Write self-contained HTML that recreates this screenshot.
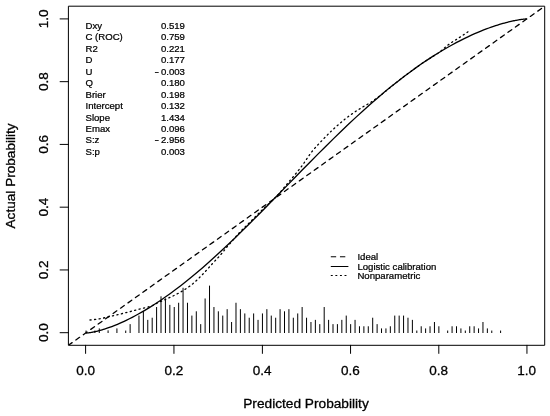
<!DOCTYPE html>
<html><head><meta charset="utf-8"><title>Calibration plot</title>
<style>
html,body{margin:0;padding:0;background:#fff;}
svg{display:block;font-family:"Liberation Sans",Arial,Helvetica,sans-serif;fill:#000;}
.ax text{font-size:13.7px;stroke:#000;stroke-width:0.3px;}
.ax .tk text{font-size:13.5px;}
.sm text{font-size:9.6px;stroke:#000;stroke-width:0.24px;}
</style></head><body>
<svg width="550" height="416" viewBox="0 0 550 416">
<rect width="550" height="416" fill="#fff"/>
<defs><clipPath id="c"><rect x="68.4" y="6.2" width="476.30" height="339.10"/></clipPath></defs>
<g fill="none" stroke="#000" stroke-width="1" stroke-linecap="round" stroke-linejoin="round">
<path d="M68.4 6.2H544.7V345.3H68.4Z" stroke-linecap="butt" stroke-linejoin="miter"/>
<path d="M85.60 345.3V353.40M173.95 345.3V353.40M262.40 345.3V353.40M350.55 345.3V353.40M438.80 345.3V353.40M526.95 345.3V353.40M68.4 332.70H60.10M68.4 269.94H60.10M68.4 207.18H60.10M68.4 144.42H60.10M68.4 81.66H60.10M68.4 18.90H60.10"/>
<path d="M86.04 333.00V330.56M94.86 333.00V330.56M99.27 333.00V328.42M108.09 333.00V330.35M116.91 333.00V328.42M125.73 333.00V330.56M130.14 333.00V324.14M138.96 333.00V315.58M143.37 333.00V311.30M147.78 333.00V319.86M152.19 333.00V317.72M156.60 333.00V307.03M161.01 333.00V296.33M165.42 333.00V298.47M169.83 333.00V304.89M174.24 333.00V307.03M178.65 333.00V302.75M183.06 333.00V287.77M187.48 333.00V302.75M191.89 333.00V315.58M196.30 333.00V311.30M200.71 333.00V324.14M205.12 333.00V298.47M209.53 333.00V285.63M213.94 333.00V307.03M218.35 333.00V311.30M222.76 333.00V315.58M227.17 333.00V309.16M231.58 333.00V322.00M235.99 333.00V302.75M240.40 333.00V309.16M244.81 333.00V313.44M249.22 333.00V317.72M253.63 333.00V313.44M258.04 333.00V319.86M262.45 333.00V313.44M266.86 333.00V309.16M271.27 333.00V315.58M275.68 333.00V317.72M280.09 333.00V309.16M284.50 333.00V311.30M288.91 333.00V309.16M293.32 333.00V317.72M297.73 333.00V313.44M302.14 333.00V307.03M306.55 333.00V317.72M310.96 333.00V322.00M315.37 333.00V319.86M319.78 333.00V324.14M324.19 333.00V307.03M328.60 333.00V319.86M333.01 333.00V324.14M337.42 333.00V324.14M341.83 333.00V319.86M346.24 333.00V315.58M350.65 333.00V324.14M355.06 333.00V319.86M359.47 333.00V326.28M363.88 333.00V326.28M368.29 333.00V326.28M372.70 333.00V317.72M377.11 333.00V324.14M381.52 333.00V328.42M385.93 333.00V328.42M390.34 333.00V326.28M394.75 333.00V315.58M399.16 333.00V315.58M403.57 333.00V315.58M407.98 333.00V317.72M412.39 333.00V319.86M416.80 333.00V330.56M421.21 333.00V326.28M425.62 333.00V328.42M430.04 333.00V326.28M434.45 333.00V322.00M438.86 333.00V326.28M447.68 333.00V330.56M452.09 333.00V326.28M456.50 333.00V326.28M460.91 333.00V328.42M465.32 333.00V330.56M469.73 333.00V326.28M474.14 333.00V326.28M478.55 333.00V328.42M482.96 333.00V322.00M487.37 333.00V328.42M491.78 333.00V330.56M500.60 333.00V330.56" stroke-linecap="butt"/>
<g clip-path="url(#c)"><path d="M68.4 345.3L544.7 6.2" stroke-dasharray="4.573 4.573" stroke-width="1.3"/></g>
<polyline points="86.44,333.03 86.47,333.03 86.50,333.03 86.54,333.03 86.57,333.03 86.61,333.02 86.65,333.02 86.70,333.02 86.75,333.01 86.80,333.01 86.85,333.01 86.91,333.00 86.97,333.00 87.04,332.99 87.11,332.99 87.19,332.98 87.28,332.97 87.37,332.96 87.46,332.95 87.57,332.94 87.68,332.93 87.80,332.92 87.92,332.91 88.06,332.89 88.21,332.87 88.36,332.85 88.53,332.83 88.71,332.81 88.91,332.79 89.11,332.76 89.33,332.73 89.57,332.69 89.83,332.66 90.10,332.61 90.39,332.57 90.71,332.52 91.05,332.46 91.41,332.40 91.79,332.33 92.20,332.25 92.65,332.17 93.12,332.07 93.63,331.97 94.17,331.86 94.75,331.73 95.37,331.59 96.04,331.43 96.75,331.26 97.51,331.08 98.32,330.87 99.19,330.64 100.12,330.38 101.11,330.10 102.17,329.79 103.30,329.45 104.50,329.08 105.79,328.66 107.16,328.20 108.62,327.70 110.17,327.14 111.83,326.52 113.59,325.85 115.47,325.10 117.46,324.28 119.57,323.38 121.82,322.39 124.20,321.30 126.73,320.10 129.40,318.79 132.23,317.35 135.22,315.78 138.38,314.05 141.71,312.17 145.23,310.12 148.92,307.88 152.81,305.44 156.90,302.79 161.18,299.92 165.67,296.81 170.36,293.44 175.27,289.82 180.38,285.92 185.70,281.73 191.23,277.25 196.97,272.47 202.91,267.39 209.06,261.99 215.39,256.29 221.92,250.29 228.62,244.00 235.49,237.42 242.52,230.58 249.69,223.50 256.99,216.19 264.41,208.70 271.93,201.05 279.54,193.27 287.21,185.40 294.93,177.49 302.67,169.57 310.43,161.69 318.17,153.87 325.89,146.17 333.56,138.61 341.17,131.23 348.69,124.06 356.11,117.12 363.41,110.44 370.58,104.04 377.61,97.92 384.48,92.11 391.18,86.59 397.71,81.39 404.04,76.49 410.19,71.90 416.13,67.60 421.87,63.59 427.40,59.86 432.72,56.40 437.83,53.20 442.74,50.23 447.43,47.50 451.92,44.98 456.20,42.67 460.29,40.55 464.18,38.60 467.87,36.82 471.39,35.19 474.72,33.70 477.88,32.34 480.87,31.10 483.70,29.97 486.37,28.94 488.90,28.01 491.28,27.15 493.53,26.38 495.64,25.68 497.63,25.04 499.51,24.46 501.27,23.94 502.93,23.46 504.48,23.03 505.94,22.64 507.31,22.28 508.60,21.96 509.80,21.67 510.93,21.41 511.99,21.17 512.98,20.95 513.91,20.76 514.78,20.58 515.59,20.42 516.35,20.27 517.06,20.14 517.73,20.02 518.35,19.92 518.93,19.82 519.47,19.73 519.98,19.65 520.45,19.58 520.90,19.51 521.31,19.46 521.69,19.40 522.05,19.35 522.39,19.31 522.71,19.27 523.00,19.24 523.27,19.20 523.53,19.17 523.77,19.15 523.99,19.12 524.19,19.10 524.39,19.08 524.57,19.07 524.74,19.05 524.89,19.04 525.04,19.02 525.18,19.01 525.30,19.00 525.42,18.99 525.53,18.98 525.64,18.97 525.73,18.97 525.82,18.96 525.91,18.95 525.99,18.95 526.06,18.94 526.13,18.94 526.19,18.94 526.25,18.93 526.30,18.93 526.35,18.93 526.40,18.92 526.45,18.92 526.49,18.92 526.53,18.92 526.56,18.92 526.60,18.91 526.63,18.91 526.66,18.91" stroke-width="1.3"/>
<polyline points="90.00,320.00 91.91,319.82 93.82,319.60 95.73,319.35 97.65,319.07 99.56,318.77 101.47,318.44 103.38,318.05 105.29,317.61 107.20,317.16 109.12,316.71 111.03,316.26 112.94,315.81 114.85,315.36 116.76,314.89 118.67,314.42 120.58,313.96 122.50,313.49 124.41,313.01 126.32,312.53 128.23,312.05 130.14,311.56 132.05,311.07 133.97,310.58 135.88,310.08 137.79,309.58 139.70,309.08 141.61,308.60 143.52,308.14 145.44,307.68 147.35,307.19 149.26,306.64 151.17,305.98 153.08,305.16 154.99,304.25 156.90,303.29 158.82,302.35 160.73,301.48 162.64,300.64 164.55,299.82 166.46,298.99 168.37,298.15 170.29,297.27 172.20,296.37 174.11,295.46 176.02,294.52 177.93,293.53 179.84,292.49 181.75,291.39 183.67,290.23 185.58,289.02 187.49,287.75 189.40,286.40 191.31,284.98 193.22,283.44 195.14,281.76 197.05,279.96 198.96,278.08 200.87,276.15 202.78,274.21 204.69,272.20 206.61,270.11 208.52,268.01 210.43,265.90 212.34,263.77 214.25,261.64 216.16,259.57 218.07,257.58 219.99,255.55 221.90,253.35 223.81,250.94 225.72,248.47 227.63,246.16 229.54,244.01 231.46,241.85 233.37,239.62 235.28,237.37 237.19,235.16 239.10,233.01 241.01,230.98 242.92,229.05 244.84,227.19 246.75,225.35 248.66,223.51 250.57,221.62 252.48,219.70 254.39,217.77 256.31,215.85 258.22,213.93 260.13,212.04 262.04,210.17 263.95,208.31 265.86,206.47 267.77,204.64 269.69,202.82 271.60,201.04 273.51,199.30 275.42,197.48 277.33,195.48 279.24,193.32 281.16,191.07 283.07,188.78 284.98,186.49 286.89,184.24 288.80,181.99 290.71,179.74 292.63,177.48 294.54,175.19 296.45,172.87 298.36,170.49 300.27,168.06 302.18,165.56 304.09,162.87 306.01,160.03 307.92,157.17 309.83,154.41 311.74,151.90 313.65,149.58 315.56,147.37 317.48,145.25 319.39,143.20 321.30,141.20 323.21,139.23 325.12,137.28 327.03,135.35 328.94,133.44 330.86,131.57 332.77,129.74 334.68,127.95 336.59,126.22 338.50,124.54 340.41,122.90 342.33,121.30 344.24,119.74 346.15,118.23 348.06,116.76 349.97,115.34 351.88,113.98 353.79,112.66 355.71,111.38 357.62,110.14 359.53,108.94 361.44,107.76 363.35,106.61 365.26,105.51 367.18,104.48 369.09,103.39 371.00,102.18 372.91,100.90 374.82,99.55 376.73,98.16 378.65,96.74 380.56,95.29 382.47,93.83 384.38,92.32 386.29,90.75 388.20,89.16 390.11,87.55 392.03,85.95 393.94,84.38 395.85,82.86 397.76,81.35 399.67,79.86 401.58,78.38 403.50,76.91 405.41,75.46 407.32,74.02 409.23,72.60 411.14,71.20 413.05,69.81 414.96,68.43 416.88,67.07 418.79,65.73 420.70,64.40 422.61,63.08 424.52,61.79 426.43,60.52 428.35,59.31 430.26,58.13 432.17,56.96 434.08,55.77 435.99,54.54 437.90,53.25 439.82,51.86 441.73,50.31 443.64,48.68 445.55,47.04 447.46,45.45 449.37,44.00 451.28,42.69 453.20,41.45 455.11,40.25 457.02,39.06 458.93,37.84 460.84,36.59 462.75,35.32 464.67,34.05 466.58,32.77 468.49,31.49 470.40,30.20" stroke-dasharray="1.143 3.43" stroke-width="1.3"/>
<path d="M331.2 256.78H348.0" stroke-dasharray="4.573 4.573"/>
<path d="M331.2 266.5H348.0"/>
<path d="M331.2 275.5H348.0" stroke-dasharray="1.143 3.43"/>
</g>
<g class="ax"><g class="tk"><text x="85.74" y="374.8" text-anchor="middle">0.0</text><text x="173.94" y="374.8" text-anchor="middle">0.2</text><text x="262.15" y="374.8" text-anchor="middle">0.4</text><text x="350.35" y="374.8" text-anchor="middle">0.6</text><text x="438.56" y="374.8" text-anchor="middle">0.8</text><text x="526.76" y="374.8" text-anchor="middle">1.0</text><text transform="translate(48.4 332.70) rotate(-90)" text-anchor="middle">0.0</text><text transform="translate(48.4 269.94) rotate(-90)" text-anchor="middle">0.2</text><text transform="translate(48.4 207.18) rotate(-90)" text-anchor="middle">0.4</text><text transform="translate(48.4 144.42) rotate(-90)" text-anchor="middle">0.6</text><text transform="translate(48.4 81.66) rotate(-90)" text-anchor="middle">0.8</text><text transform="translate(48.4 18.90) rotate(-90)" text-anchor="middle">1.0</text></g>
<text x="306.0" y="408.0" text-anchor="middle">Predicted Probability</text>
<text transform="translate(15.2 175.9) rotate(-90)" text-anchor="middle" style="font-size:13.62px">Actual Probability</text>
</g>
<g class="sm"><text x="85.5" y="29.00">Dxy</text><text x="184.9" y="29.00" text-anchor="end">0.519</text><text x="85.5" y="40.44">C (ROC)</text><text x="184.9" y="40.44" text-anchor="end">0.759</text><text x="85.5" y="51.88">R2</text><text x="184.9" y="51.88" text-anchor="end">0.221</text><text x="85.5" y="63.32">D</text><text x="184.9" y="63.32" text-anchor="end">0.177</text><text x="85.5" y="74.76">U</text><text x="184.9" y="74.76" text-anchor="end">0.003</text><text transform="translate(154.6 74.76) scale(1.4 0.85)">-</text><text x="85.5" y="86.20">Q</text><text x="184.9" y="86.20" text-anchor="end">0.180</text><text x="85.5" y="97.64">Brier</text><text x="184.9" y="97.64" text-anchor="end">0.198</text><text x="85.5" y="109.08">Intercept</text><text x="184.9" y="109.08" text-anchor="end">0.132</text><text x="85.5" y="120.52">Slope</text><text x="184.9" y="120.52" text-anchor="end">1.434</text><text x="85.5" y="131.96">Emax</text><text x="184.9" y="131.96" text-anchor="end">0.096</text><text x="85.5" y="143.40">S:z</text><text x="184.9" y="143.40" text-anchor="end">2.956</text><text transform="translate(154.6 143.40) scale(1.4 0.85)">-</text><text x="85.5" y="154.84">S:p</text><text x="184.9" y="154.84" text-anchor="end">0.003</text>
<text x="357.4" y="260.3">Ideal</text>
<text x="357.4" y="269.6">Logistic calibration</text>
<text x="357.4" y="278.8">Nonparametric</text>
</g>
</svg>
</body></html>
